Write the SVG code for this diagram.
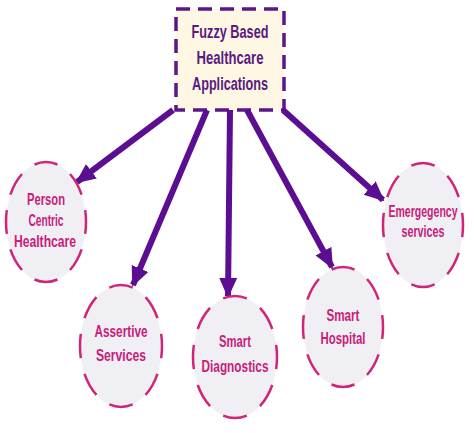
<svg xmlns="http://www.w3.org/2000/svg" width="474" height="433" viewBox="0 0 474 433">
<style>
.bt{font-family:"Liberation Sans Narrow","Liberation Sans",Arial,sans-serif;font-weight:bold;font-size:19px;fill:#5a1a80;text-anchor:middle}
.et{font-family:"Liberation Sans Narrow","Liberation Sans",Arial,sans-serif;font-weight:bold;font-size:17px;fill:#c8207a;text-anchor:middle}
.el{fill:#f0eff4;stroke:#d0237a;stroke-width:2.5;stroke-dasharray:6 4;stroke-dashoffset:3}
.ar{stroke:#5b0e91;stroke-width:6;fill:none;marker-end:url(#ah)}
</style>
<defs>
<marker id="ah" markerUnits="userSpaceOnUse" markerWidth="20" markerHeight="20" viewBox="0 0 20 20" refX="18" refY="10" orient="auto">
<path d="M0,1 L20,10 L0,19 Z" fill="#5b0e91"/>
</marker>
</defs>
<rect width="474" height="433" fill="#ffffff"/>
<g id="root">
<rect x="176" y="9" width="108" height="101" fill="#fdf7e4" stroke="#5c1688" stroke-width="3.5" stroke-dasharray="14 8"/>
<text class="bt" x="230" y="38" textLength="77" lengthAdjust="spacingAndGlyphs">Fuzzy Based</text>
<text class="bt" x="230" y="64" textLength="67" lengthAdjust="spacingAndGlyphs">Healthcare</text>
<text class="bt" x="230" y="90" textLength="76" lengthAdjust="spacingAndGlyphs">Applications</text>
</g>
<g id="connectors">
<line class="ar" x1="173" y1="110" x2="77" y2="182"/>
<line class="ar" x1="207" y1="110" x2="133" y2="285"/>
<line class="ar" x1="230" y1="110" x2="228" y2="296"/>
<line class="ar" x1="247" y1="110" x2="332" y2="267"/>
<line class="ar" x1="283" y1="110" x2="383" y2="200"/>
</g>
<g id="person">
<ellipse class="el" cx="46" cy="222" rx="40" ry="60" pathLength="80"/>
<text class="et" x="46" y="205" textLength="38" lengthAdjust="spacingAndGlyphs">Person</text>
<text class="et" x="46" y="226" textLength="35" lengthAdjust="spacingAndGlyphs">Centric</text>
<text class="et" x="45" y="247" textLength="62" lengthAdjust="spacingAndGlyphs">Healthcare</text>
</g>
<g id="assertive">
<ellipse class="el" cx="121" cy="346" rx="41" ry="61" pathLength="80"/>
<text class="et" x="121" y="337" textLength="53" lengthAdjust="spacingAndGlyphs">Assertive</text>
<text class="et" x="121" y="361" textLength="50" lengthAdjust="spacingAndGlyphs">Services</text>
</g>
<g id="diagnostics">
<ellipse class="el" cx="235" cy="357" rx="42" ry="61" pathLength="80"/>
<text class="et" x="235" y="347" textLength="32" lengthAdjust="spacingAndGlyphs">Smart</text>
<text class="et" x="235" y="372" textLength="67" lengthAdjust="spacingAndGlyphs">Diagnostics</text>
</g>
<g id="hospital">
<ellipse class="el" cx="343" cy="327" rx="40" ry="60" pathLength="80"/>
<text class="et" x="343" y="321" textLength="33" lengthAdjust="spacingAndGlyphs">Smart</text>
<text class="et" x="343" y="344" textLength="45" lengthAdjust="spacingAndGlyphs">Hospital</text>
</g>
<g id="emergency">
<ellipse class="el" cx="423" cy="225" rx="40" ry="62" pathLength="80"/>
<text class="et" transform="translate(423,217) scale(0.62,1)" x="0" y="0">Emergegency</text>
<text class="et" x="423" y="237" textLength="43" lengthAdjust="spacingAndGlyphs">services</text>
</g>
</svg>
